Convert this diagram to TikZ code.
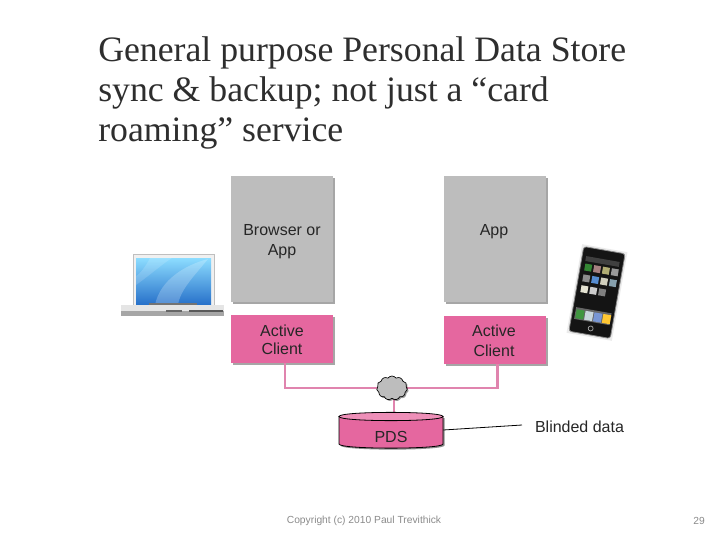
\documentclass[tikz,border=0pt]{standalone}
\usepackage{fontspec}
\setmainfont{Liberation Sans}
\newfontfamily\titlefont{Liberation Serif}
\usetikzlibrary{shadows,shapes.symbols}
\definecolor{boxgrey}{HTML}{BDBDBD}
\definecolor{boxpink}{HTML}{E5679F}
\definecolor{toppink}{HTML}{EE8FB8}
\definecolor{linepink}{HTML}{E084AE}
\definecolor{titlegrey}{HTML}{2E2E2E}
\definecolor{footgrey}{HTML}{8A8A8A}
\tikzset{
	softshadow/.style={drop shadow={shadow xshift=1.6pt, shadow yshift=-1.6pt, opacity=0.35, fill=black}},
	greybox/.style={fill=boxgrey, minimum width=76.5pt, minimum height=94.5pt, inner sep=0pt, softshadow},
	pinkbox/.style={fill=boxpink, minimum width=76.5pt, minimum height=36pt, inner sep=0pt, softshadow},
	boxtext/.style={font=\fontsize{12}{15}\selectfont, align=center, text=black!85, inner sep=0pt},
	titleline/.style={font=\titlefont\fontsize{26.8}{30}\selectfont, text=titlegrey, anchor=base west, inner sep=0pt},
	footer/.style={font=\fontsize{7.7}{9}\selectfont, text=footgrey, inner sep=0pt},
	pinkline/.style={draw=linepink, line width=1.6pt}
}

\begin{document}
\begin{tikzpicture}[x=0.75pt, y=-0.75pt]
	%%%%% START %%%%%
	\useasboundingbox (0, 0) rectangle (728, 546);
	
	\node[titleline] (titleone) at (98, 61) {General purpose Personal Data Store};
	\node[titleline] (titletwo) at (98, 101) {sync \& backup; not just a “card};
	\node[titleline] (titlethree) at (98, 141) {roaming” service};
	
	\node[greybox] (browser) at (282, 239) {};
	\node[greybox] (app) at (494.5, 239) {};
	\node[pinkbox] (clientleft) at (282, 339) {};
	\node[pinkbox] (clientright) at (495, 339.5) {};
	
	\node[boxtext] (browserlabel) at (282, 242) {Browser or\\App};
	\node[boxtext] (applabel) at (494, 232) {App};
	\node[boxtext] (clientleftlabel) at (282, 339.5) {Active\\[-1.5pt]Client};
	\node[boxtext] (clientrightlabel) at (494, 340.5) {Active\\Client};
	
	% cloud and store
	\coordinate (cornerleft) at (285, 388);
	\coordinate (cornerright) at (497.5, 388);
	\coordinate (topleft) at (285, 363);
	\coordinate (topright) at (497.5, 364);
	\draw[pinkline] (topleft) -- (cornerleft) -- (cornerright) -- (topright);
	\draw[pinkline] (394, 395) -- (394, 413);
	
	\fill[black!45] (340.5, 418) -- (340.5, 445.5) .. controls (340.5, 451) and (444.5, 451) .. (444.5, 445.5) -- (444.5, 418) -- cycle;
	\draw[fill=boxpink, line width=0.6pt] (339, 416.5) -- (339, 444) .. controls (339, 449.5) and (443, 449.5) .. (443, 444) -- (443, 416.5) -- cycle;
	\draw[fill=toppink, line width=0.6pt] (339, 416.5) .. controls (339, 411) and (443, 411) .. (443, 416.5) .. controls (443, 422) and (339, 422) .. (339, 416.5) -- cycle;
	\node[minimum width=78pt, minimum height=27pt, inner sep=0pt] (pds) at (391, 430) {};
	\node[boxtext] (pdslabel) at (391, 437) {PDS};
	
	\node[cloud, cloud puffs=11, cloud puff arc=110, aspect=1.2, draw=black, fill=boxgrey, minimum width=23pt, minimum height=18pt, inner sep=0pt, line width=0.5pt, drop shadow={shadow xshift=1pt, shadow yshift=-1pt, opacity=0.4, fill=black}] (net) at (392, 388) {};
	
	\coordinate (blindend) at (522, 425);
	\draw[line width=0.6pt] (pds.east) -- (blindend);
	\node[boxtext] (blindlabel) at (579.5, 427) {Blinded data};
	
	% laptop
	\draw[fill=black!6, draw=black!25, line width=0.4pt] (133, 254) rectangle (214, 307);
	\shade[top color=blue!30!cyan!45!white, bottom color=blue!55!cyan!75!black!85] (136, 258) rectangle (211, 305);
	\fill[white, opacity=0.22] (155, 305) .. controls (160, 280) and (185, 265) .. (208, 259) .. controls (195, 275) and (180, 290) .. (178, 305) -- cycle;
	\fill[white, opacity=0.15] (136, 285) .. controls (150, 275) and (165, 262) .. (172, 258) -- (150, 258) .. controls (146, 266) and (140, 274) .. (136, 276) -- cycle;
	\fill[black!55] (149, 302.5) rectangle (197, 305);
	\fill[black!10] (121, 305) rectangle (224, 311);
	\fill[black!35] (121, 311) rectangle (224, 315.5);
	\fill[black!65] (189, 310) rectangle (223, 311.5);
	\fill[black!60] (166, 310) rectangle (182, 312);
	
	% phone
	\begin{scope}[shift={(597, 292.5)}, rotate=-10]
		\fill[black!8] (-23, -45) rectangle (23, 45);
		\fill[black!92, rounded corners=2pt, draw=black!45, line width=0.6pt] (-21, -43) rectangle (21, 43);
		\fill[black!75] (-17, -34) rectangle (17, -29);
		\foreach \col/\row/\tint in {-13/-23/green!40!black!80, -4/-23/red!30!black!50, 5/-23/yellow!50!black!70, 14/-23/black!40,
			-13/-12/black!45, -4/-12/cyan!50!blue!70, 5/-12/yellow!30!black!30, 14/-12/cyan!40!black!60,
			-13/-1/yellow!40!black!20, -4/-1/black!20, 5/-1/black!50}
			\fill[\tint] (\col-3.5, \row-3.5) rectangle (\col+3.5, \row+3.5);
		\fill[black!60] (-18, 18) rectangle (18, 30);
		\foreach \col/\tint in {-13/green!45!black!75, -4/cyan!40!black!25, 5/cyan!40!blue!55, 14/orange!55!yellow!80}
			\fill[\tint] (\col-4, 20) rectangle (\col+4, 29);
		\draw[black!30, line width=0.5pt] (0, 36.5) circle (2.5);
	\end{scope}
	
	\node[footer] (copyright) at (364, 521) {Copyright (c) 2010 Paul Trevithick};
	\node[footer] (pagenum) at (699, 521) {29};
	%%%%% END %%%%%
\end{tikzpicture}
\end{document}
